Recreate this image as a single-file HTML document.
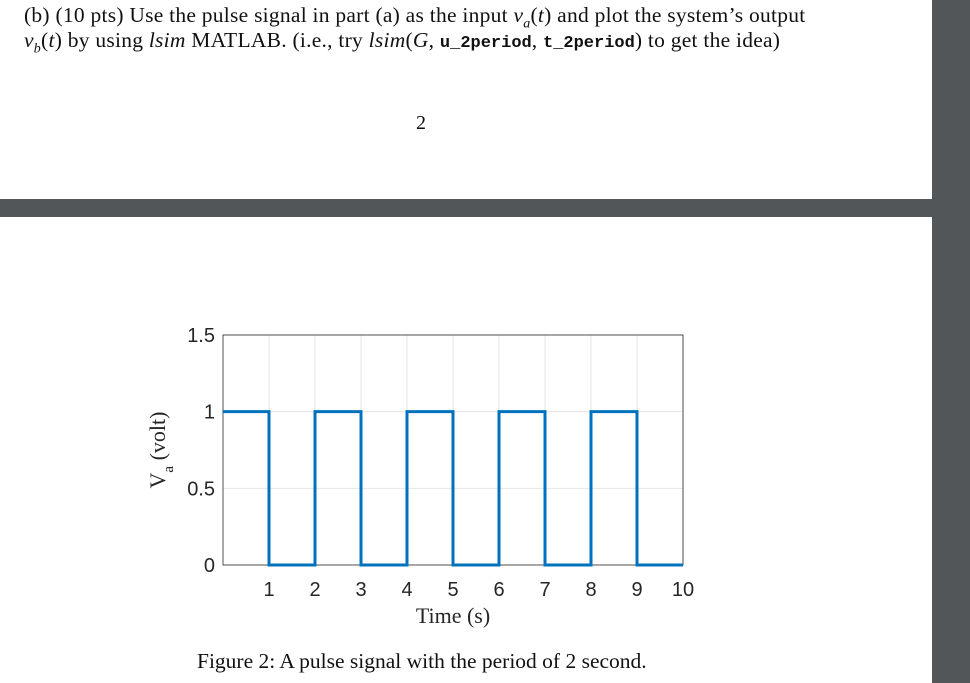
<!DOCTYPE html>
<html><head><meta charset="utf-8"><style>
body{margin:0;width:970px;height:683px;overflow:hidden;background:#fff;position:relative;font-family:"Liberation Serif",serif;}
.t{position:absolute;font-size:21.5px;color:#111;white-space:nowrap}
</style></head><body>
<div class="t" style="left:24px;top:3px;letter-spacing:0.25px">(b) (10 pts) Use the pulse signal in part (a) as the input <i>v<sub style="font-size:14px">a</sub></i>(<i>t</i>) and plot the system’s output</div>
<div class="t" style="left:24px;top:28px;letter-spacing:0.25px"><i>v<sub style="font-size:14px">b</sub></i>(<i>t</i>) by using <i>lsim</i> MATLAB. (i.e., try <i>lsim</i>(<i>G</i>, <span style="font-family:'Liberation Mono',monospace;font-weight:bold;font-size:17px;letter-spacing:0">u_2period</span>, <span style="font-family:'Liberation Mono',monospace;font-weight:bold;font-size:17px;letter-spacing:0">t_2period</span>) to get the idea)</div>
<div class="t" style="left:416px;top:112px;font-size:20px">2</div>
<div style="position:absolute;left:0;top:199px;width:970px;height:18px;background:#525659"></div>
<div style="position:absolute;left:932px;top:0;width:38px;height:683px;background:#525659"></div>
<svg id="chart" width="970" height="683" style="position:absolute;left:0;top:0" xmlns="http://www.w3.org/2000/svg"></svg>
<div class="t" style="left:197px;top:649px">Figure 2: A pulse signal with the period of 2 second.</div>
<script>
const xTicks=[1,2,3,4,5,6,7,8,9,10];
const yTicks=[0,0.5,1,1.5];
const yTickLabels=["0","0.5","1","1.5"];
const pulseTimes=[0,1,1,2,2,3,3,4,4,5,5,6,6,7,7,8,8,9,9,10];
const pulseValues=[1,1,0,0,1,1,0,0,1,1,0,0,1,1,0,0,1,1,0,0];
const L=223,R=683,T=335,B=565;
const sx=v=>L+(v-0)/(10-0)*(R-L);
const sy=v=>B-(v-0)/(1.5-0)*(B-T);
const svg=document.getElementById('chart');
const NS='http://www.w3.org/2000/svg';
function mk(tag,attrs){const e=document.createElementNS(NS,tag);for(const k in attrs)e.setAttribute(k,attrs[k]);svg.appendChild(e);return e;}
xTicks.forEach(v=>{const e=mk('line',{x1:sx(v),x2:sx(v),y1:T,y2:B,stroke:'#e6e6e6','stroke-width':1});

});
yTicks.forEach(v=>{const e=mk('line',{x1:L,x2:R,y1:sy(v),y2:sy(v),stroke:'#e6e6e6','stroke-width':1});

});
const box=mk('rect',{x:L,y:T,width:R-L,height:B-T,fill:'none',stroke:'#262626','stroke-width':0.8});


let d='';pulseTimes.forEach((t,i)=>{d+=(i?'L':'M')+sx(t)+','+sy(pulseValues[i]);});
const p=mk('path',{d:d,fill:'none',stroke:'#0072BD','stroke-width':3,'stroke-linejoin':'miter'});


xTicks.forEach(v=>{const e=mk('text',{x:sx(v),y:B+31,'text-anchor':'middle','font-family':'Liberation Sans, sans-serif','font-size':20,fill:'#262626'});e.textContent=v;

});
yTicks.forEach((v,i)=>{const e=mk('text',{x:L-8,y:sy(v)+7,'text-anchor':'end','font-family':'Liberation Sans, sans-serif','font-size':20,fill:'#262626'});e.textContent=yTickLabels[i];

});
const xl=mk('text',{x:453,y:623,'text-anchor':'middle','font-family':'Liberation Serif, serif','font-size':22,fill:'#262626'});xl.textContent='Time (s)';


const yl=mk('text',{x:0,y:0,transform:'translate(165,450) rotate(-90)','text-anchor':'middle','font-family':'Liberation Serif, serif','font-size':22,fill:'#262626'});
yl.innerHTML='V<tspan font-size="15" dy="8">a</tspan><tspan dy="-8"> (volt)</tspan>';


</script>
</body></html>
